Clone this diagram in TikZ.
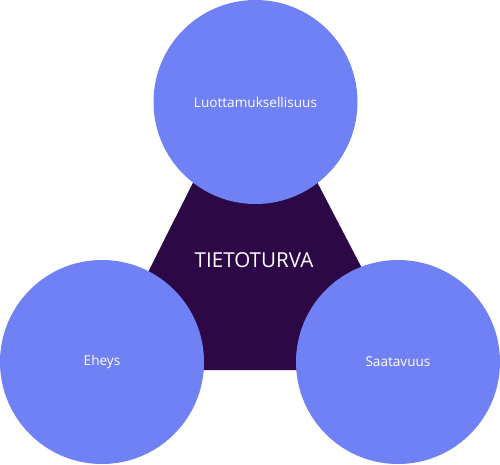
\documentclass[tikz,border=0pt]{standalone}
\usepackage{fontspec}
\setmainfont{Open Sans}
\definecolor{circ}{HTML}{7080F5}
\definecolor{core}{HTML}{2D0847}
\begin{document}
\begin{tikzpicture}[x=1pt,y=-1pt,
  pillar/.style={circle,fill=circ,minimum size=204pt,inner sep=0pt,text=white,font=\fontsize{13.6}{16}\selectfont},
  corelabel/.style={text=white,font=\fontsize{20.6}{24}\selectfont}]
\useasboundingbox (0,0) rectangle (500,465);
\fill[core] (254,61) -- (415,370) -- (99,370) -- cycle;
\node[corelabel] (core) at (254,260) {TIETOTURVA};
\node[pillar] (top) at (255.5,102) {Luottamuksellisuus};
\node[pillar] (left) at (102,362) {Eheys};
\node[pillar] (right) at (398,362) {Saatavuus};
\end{tikzpicture}
\end{document}
